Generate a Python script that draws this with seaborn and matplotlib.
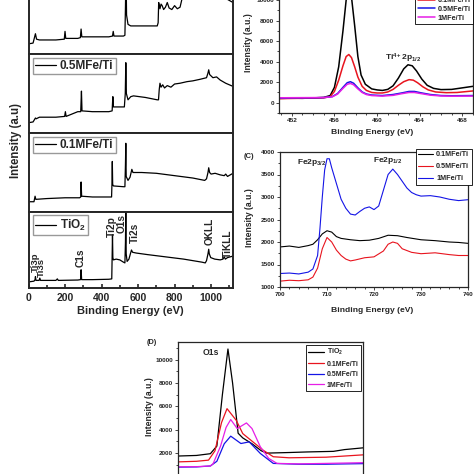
import matplotlib
matplotlib.use("Agg")
import matplotlib.pyplot as plt
import seaborn as sns

# ---------------- (A) XPS survey, one stacked panel per sample (a.u.) ----------------
tio2_ev = [0, 15, 30, 36, 38, 41, 58, 62, 66, 150, 158, 163, 270, 285, 288, 291, 350, 440, 456,
           458, 460, 462, 465, 480, 500, 520, 528, 531, 533, 535, 540, 550, 558, 564, 570, 590,
           650, 750, 850, 950, 968, 975, 983, 987, 990, 998, 1020, 1050, 1065, 1072, 1078, 1090,
           1105, 1120]
tio2_int = [8, 8.5, 9, 11, 15, 10, 10, 13, 10, 10, 12, 10, 10.5, 11, 24, 11, 11, 11.5, 12,
            40, 70, 40, 37, 38, 37, 34, 33, 60, 100, 45, 35, 38, 45, 50, 47, 46,
            44, 41, 38, 34, 33, 36, 45, 51, 45, 40, 38, 37, 38, 41, 38, 40,
            41, 42]

fe01_ev = [0, 30, 36, 40, 100, 200, 280, 286, 288, 291, 350, 440, 455, 457, 459, 461, 465, 520,
           528, 531, 533, 535, 545, 556, 562, 566, 572, 620, 700, 800, 900, 965, 975, 983, 987,
           992, 1000, 1022, 1050, 1072, 1080, 1090, 1105, 1120]
fe01_int = [13, 13, 20, 16, 17, 18, 18, 19, 38, 20, 19, 19, 19, 35, 64, 35, 33, 32,
            32, 60, 87, 45, 40, 44, 50, 54, 50, 50, 49, 46, 43, 40, 42, 50, 56,
            50, 48, 49, 47, 46, 48, 45, 47, 49]

fe05_ev = [0, 25, 38, 42, 60, 150, 198, 202, 206, 270, 286, 290, 293, 350, 440, 458, 462, 465,
           510, 525, 530, 533, 536, 545, 560, 575, 640, 705, 712, 716, 720, 726, 735, 745, 760,
           780, 800, 830, 868, 900, 940, 975, 983, 987, 992, 1010, 1030, 1050, 1080, 1100, 1120]
fe05_int = [13, 14, 19, 18, 20, 20, 21, 27, 21, 27, 27, 53, 28, 27, 27, 28, 46, 33,
            33, 33, 50, 89, 50, 42, 46, 47, 45, 42, 42, 55, 63, 58, 61, 57, 60,
            58, 62, 63, 65, 66, 68, 70, 76, 80, 74, 70, 71, 67, 63, 61, 59]

fe1_ev = [0, 25, 38, 44, 60, 150, 196, 200, 204, 270, 284, 288, 292, 380, 440, 460, 464, 468,
          520, 528, 531, 534, 537, 545, 560, 650, 705, 710, 713, 716, 720, 726, 732, 740, 750,
          760, 770, 785, 800, 815, 830, 840, 850, 900, 960, 985, 1000, 1050, 1090, 1120]
fe1_int = [13, 14, 26, 19, 18, 18, 19, 29, 20, 20, 21, 32, 22, 22, 22, 23, 29, 23,
           23, 24, 60, 110, 50, 38, 36, 36, 36, 40, 66, 62, 58, 64, 62, 57, 60,
           66, 59, 57, 62, 58, 60, 70, 75, 78, 80, 90, 82, 76, 70, 66]

survey_labels = ["1MFe/Ti", "0.5MFe/Ti", "0.1MFe/Ti", "TiO$_2$"]

# ---------------- (B) Ti 2p ----------------
ti_tio2_ev = [450.8, 452, 453, 454, 455, 455.6, 456.0, 456.4, 456.8, 457.1, 457.35, 457.6, 457.9,
              458.2, 458.5, 458.9, 459.5, 460.0, 460.5, 461.0, 461.5, 462.0, 462.5, 462.9, 463.3,
              463.7, 464.2, 464.7, 465.3, 466.0, 467.0, 468.0, 469.0]
ti_tio2_int = [420, 450, 430, 470, 520, 700, 1500, 3500, 7000, 10000, 11500, 10300, 7500,
               4500, 2700, 1800, 1350, 1250, 1200, 1300, 1650, 2400, 3300, 3700, 3600,
               3100, 2300, 1700, 1400, 1280, 1300, 1450, 1600]
ti_01_ev = [450.8, 452, 454, 455, 455.6, 456.0, 456.4, 456.8, 457.1, 457.35, 457.6, 457.9, 458.2,
            458.6, 459.0, 459.5, 460.0, 460.5, 461.0, 461.5, 462.0, 462.5, 463.0, 463.4, 463.8,
            464.3, 464.8, 465.5, 466.5, 467.5, 469.0]
ti_01_int = [400, 420, 450, 480, 600, 1100, 2200, 3600, 4500, 4700, 4400, 3500, 2500,
             1600, 1200, 1000, 950, 950, 1050, 1300, 1700, 2050, 2250, 2200, 1950,
             1550, 1250, 1050, 980, 1000, 1150]
ti_05_ev = [450.8, 452, 454, 455, 455.8, 456.3, 456.8, 457.2, 457.5, 457.8, 458.2, 458.6, 459.0,
            459.5, 460.5, 461.5, 462.3, 463.0, 463.5, 464.2, 465.0, 466.0, 467.0, 469.0]
ti_05_int = [450, 470, 480, 500, 600, 900, 1500, 1950, 2050, 1900, 1450, 1050, 850,
             750, 700, 800, 950, 1100, 1100, 950, 800, 700, 680, 700]
ti_1_ev = ti_05_ev
ti_1_int = [480, 490, 500, 510, 580, 850, 1400, 1800, 1880, 1750, 1350, 1000, 800,
            700, 650, 720, 880, 1000, 1000, 880, 740, 660, 640, 650]

# ---------------- (C) Fe 2p ----------------
fe_01_ev = [700, 702, 704, 706, 707, 708, 709, 710, 711, 712, 713, 715, 717, 719, 721, 723, 725,
            727, 730, 733, 736, 738, 740]
fe_01_int = [1890, 1910, 1880, 1920, 1950, 2050, 2180, 2250, 2220, 2120, 2080, 2050, 2030, 2040,
             2080, 2150, 2140, 2100, 2050, 2030, 2000, 1990, 1970]
fe_05_ev = [700, 702, 704, 706, 707, 708, 709, 710, 711, 712, 713, 714, 715, 716, 718, 720, 722,
            723, 724, 725, 726, 728, 730, 733, 736, 738, 740]
fe_05_int = [1130, 1150, 1140, 1160, 1220, 1420, 1850, 2100, 2000, 1820, 1700, 1620, 1580, 1600,
             1650, 1670, 1800, 1950, 2000, 1970, 1850, 1770, 1740, 1760, 1720, 1700, 1700]
fe_1_ev = [700, 702, 704, 706, 707, 708, 708.5, 709, 709.5, 710, 710.5, 711, 712, 713, 714, 715,
           716, 717, 718, 719, 720, 721, 722, 723, 724, 725, 726, 727, 728, 729, 730, 732, 734,
           736, 738, 740]
fe_1_int = [1300, 1310, 1290, 1330, 1400, 1700, 2300, 3000, 3600, 3850, 3850, 3650, 3300, 2950,
            2750, 2620, 2600, 2680, 2750, 2780, 2720, 2800, 3150, 3500, 3620, 3500, 3350, 3200,
            3100, 3050, 3020, 3030, 3000, 2950, 2920, 2940]

# ---------------- (D) O 1s ----------------
o_tio2_ev = [524, 526, 527.5, 528.2, 528.8, 529.4, 529.9, 530.5, 531.0, 532, 533, 533.6, 536, 538,
             540.8, 542, 544]
o_tio2_int = [1750, 1800, 1950, 2600, 7000, 10900, 8000, 3700, 3300, 2800, 2200, 2000, 2050,
              2100, 2150, 2300, 2450]
o_01_ev = [524, 526, 527.3, 528.0, 528.7, 529.3, 530.3, 531.0, 532.1, 533.2, 534.3, 536, 540, 544]
o_01_int = [1250, 1300, 1400, 2200, 4600, 5800, 4800, 3670, 2960, 2250, 1690, 1600, 1650, 1850]
o_05_ev = [524, 526, 527.5, 528.2, 529.0, 529.7, 530.8, 531.7, 532.9, 534.3, 537, 540, 544]
o_05_int = [800, 820, 900, 1300, 2800, 3450, 2820, 2960, 1970, 1120, 1050, 1050, 1100]
o_1_ev = [524, 526, 527.5, 527.8, 528.6, 529.2, 529.7, 530.4, 531.4, 532.0, 532.9, 533.8, 534.7,
          537, 540, 544]
o_1_int = [830, 840, 900, 1100, 2600, 4200, 4870, 4100, 4580, 4100, 2540, 1550, 1120, 1080,
           1120, 1180]

sample_labels = ["TiO$_2$", "0.1MFe/Ti", "0.5MFe/Ti", "1MFe/Ti"]
sample_colors = ["#000000", "#e8141e", "#1414e6", "#e61ee6"]

sns.set_theme(style="ticks")
plt.rcParams["font.family"] = ["Liberation Sans", "DejaVu Sans"]
plt.rcParams["font.weight"] = "bold"
plt.rcParams["mathtext.fontset"] = "custom"
plt.rcParams["mathtext.rm"] = "Liberation Sans:bold"
plt.rcParams["mathtext.bf"] = "Liberation Sans:bold"
plt.rcParams["mathtext.it"] = "Liberation Sans:bold"

W = H = 474
fig = plt.figure(figsize=(4.74, 4.74), dpi=100)


def px_axes(left, top, right, bottom):
    return fig.add_axes([left / W, 1 - bottom / H, (right - left) / W, (bottom - top) / H])


def line(ax, x, y, color, lw, label=None):
    sns.lineplot(x=x, y=y, ax=ax, color=color, lw=lw, estimator=None, sort=False,
                 label=label, legend=False)


# ---- panel A ----
survey = [(fe1_ev, fe1_int, -24, 54), (fe05_ev, fe05_int, 54, 133),
          (fe01_ev, fe01_int, 133, 212), (tio2_ev, tio2_int, 212, 288)]
for i, (ev, inten, top, bot) in enumerate(survey):
    ax = px_axes(28.5, top, 233, bot)
    line(ax, ev, inten, "black", 0.9, survey_labels[i])
    ax.set_xlim(0, 1120)
    ax.set_ylim(0, 100)
    ax.set_yticks([])
    for s in ax.spines.values():
        s.set_linewidth(1.4)
    leg = ax.legend(loc="upper left", bbox_to_anchor=(0.02, 0.955), fontsize=8.5,
                    handlelength=1.8, handletextpad=0.3, borderpad=0.2, borderaxespad=0,
                    fancybox=False, edgecolor="#999999", framealpha=1)
    leg.get_frame().set_linewidth(1.0)
    if i < 3:
        ax.set_xticks([])
    else:
        ax.set_xticks(range(0, 1001, 200))
        ax.set_xticks(range(100, 1101, 100), minor=True)
        ax.tick_params(axis="x", which="both", direction="in", labelsize=7.5, width=1.2)
        ax.tick_params(axis="x", which="major", length=3)
        ax.tick_params(axis="x", which="minor", length=2)
        ax.set_xlabel("Binding Energy (eV)", fontsize=8, fontweight="bold", labelpad=2)
        ax.set_ylabel("")
        for txt, xe, yv, fs in [("Ti3p", 38, 34.5, 6.8), ("Ti3s", 72, 27.6, 6.8),
                                ("C1s", 288, 39.5, 7.3), ("Ti2p", 456, 80.9, 7.3),
                                ("O1s", 511, 85.5, 7.3), ("Ti2s", 584, 72.4, 7.3),
                                ("OKLL", 994, 75, 7.3), ("TiKLL", 1093, 58.6, 7.3)]:
            ax.text(xe, yv, txt, rotation=90, ha="center", va="center", fontsize=fs,
                    fontweight="bold")
fig.text(16 / W, 1 - 140 / H, "Intensity (a.u)", rotation=90, ha="center", va="center",
         fontsize=8.3, fontweight="bold")


def style_small(ax):
    for s in ax.spines.values():
        s.set_linewidth(0.9)
    ax.tick_params(which="both", direction="out", labelsize=4.6, width=0.6, pad=1.5)
    ax.tick_params(which="major", length=2.2)
    ax.tick_params(which="minor", length=1.2)
    ax.set_xlabel("")
    ax.set_ylabel("")


# ---- panel B ----
axb = px_axes(279, -20.4, 473, 113)
ti_data = [(ti_tio2_ev, ti_tio2_int), (ti_01_ev, ti_01_int), (ti_05_ev, ti_05_int),
           (ti_1_ev, ti_1_int)]
for (x, y), c, lab in zip(ti_data, sample_colors, sample_labels):
    line(axb, x, y, c, 1.1, lab)
axb.set_xlim(450.8, 469)
axb.set_ylim(-1000, 12000)
axb.set_xticks(range(452, 469, 4))
axb.set_xticks(range(451, 470, 1), minor=True)
axb.set_yticks(range(0, 12001, 2000))
axb.set_yticks(range(-1000, 12001, 1000), minor=True)
style_small(axb)
axb.legend(loc="lower right", bbox_to_anchor=(1.0, 0.667), fontsize=5.2, handlelength=2.4,
           handletextpad=0.4, labelspacing=0.25, borderpad=0.3, borderaxespad=0,
           fancybox=False, edgecolor="black", framealpha=1).get_frame().set_linewidth(0.6)
axb.text(462.4, 4310, "Ti$^{4+}$2p$_{1/2}$", ha="center", va="center", fontsize=6)
fig.text(248 / W, 1 - 43 / H, "Intensity (a.u.)", rotation=90, ha="center", va="center",
         fontsize=6.2, fontweight="bold")
fig.text(372 / W, 1 - 133 / H, "Binding Energy (eV)", ha="center", va="center",
         fontsize=6.1, fontweight="bold")

# ---- panel C ----
axc = px_axes(280, 152, 468, 287)
fe_data = [(fe_01_ev, fe_01_int), (fe_05_ev, fe_05_int), (fe_1_ev, fe_1_int)]
for (x, y), c, lab in zip(fe_data, ["#000000", "#e8141e", "#1414e6"], sample_labels[1:]):
    line(axc, x, y, c, 0.8, lab)
axc.set_xlim(700, 740)
axc.set_ylim(1000, 4000)
axc.set_xticks(range(700, 741, 10))
axc.set_xticks(range(700, 741, 2), minor=True)
axc.set_yticks(range(1000, 4001, 500))
axc.set_yticks(range(1000, 4001, 250), minor=True)
style_small(axc)
axc.legend(loc="lower right", bbox_to_anchor=(1.02, 0.756), fontsize=5.2, handlelength=2.1,
           handletextpad=0.4, labelspacing=0.7, borderpad=0.35, borderaxespad=0,
           fancybox=False, edgecolor="black", framealpha=1).get_frame().set_linewidth(0.6)
axc.text(706.8, 3756, "Fe2p$_{3/2}$", ha="center", va="center", fontsize=6)
axc.text(723.0, 3800, "Fe2p$_{1/2}$", ha="center", va="center", fontsize=6)
fig.text(249 / W, 1 - 156 / H, "(C)", ha="center", va="center", fontsize=5.5, fontweight="bold")
fig.text(250 / W, 1 - 218 / H, "Intensity (a.u.)", rotation=90, ha="center", va="center",
         fontsize=6.2, fontweight="bold")
fig.text(372 / W, 1 - 310 / H, "Binding Energy (eV)", ha="center", va="center",
         fontsize=6.1, fontweight="bold")

# ---- panel D ----
axd = px_axes(178, 342, 363, 476.5)
o_data = [(o_tio2_ev, o_tio2_int), (o_01_ev, o_01_int), (o_05_ev, o_05_int), (o_1_ev, o_1_int)]
for (x, y), c, lab in zip(o_data, sample_colors, sample_labels):
    line(axd, x, y, c, 0.9, lab)
axd.set_xlim(524, 544)
axd.set_ylim(0, 11500)
axd.set_yticks(range(2000, 10001, 2000))
axd.set_yticks(range(1000, 11001, 1000), minor=True)
style_small(axd)
axd.legend(loc="upper right", bbox_to_anchor=(0.989, 0.978), fontsize=5, handlelength=2.3,
           handletextpad=0.4, labelspacing=0.5, borderpad=0.3, borderaxespad=0,
           fancybox=False, edgecolor="black", framealpha=1).get_frame().set_linewidth(0.6)
axd.text(527.5, 10600, "O1s", ha="center", va="center", fontsize=6.2)
fig.text(152 / W, 1 - 343 / H, "(D)", ha="center", va="center", fontsize=5.3, fontweight="bold")
fig.text(149 / W, 1 - 407 / H, "Intensity (a.u.)", rotation=90, ha="center", va="center",
         fontsize=6.2, fontweight="bold")

fig.savefig("out.png", dpi=100)
